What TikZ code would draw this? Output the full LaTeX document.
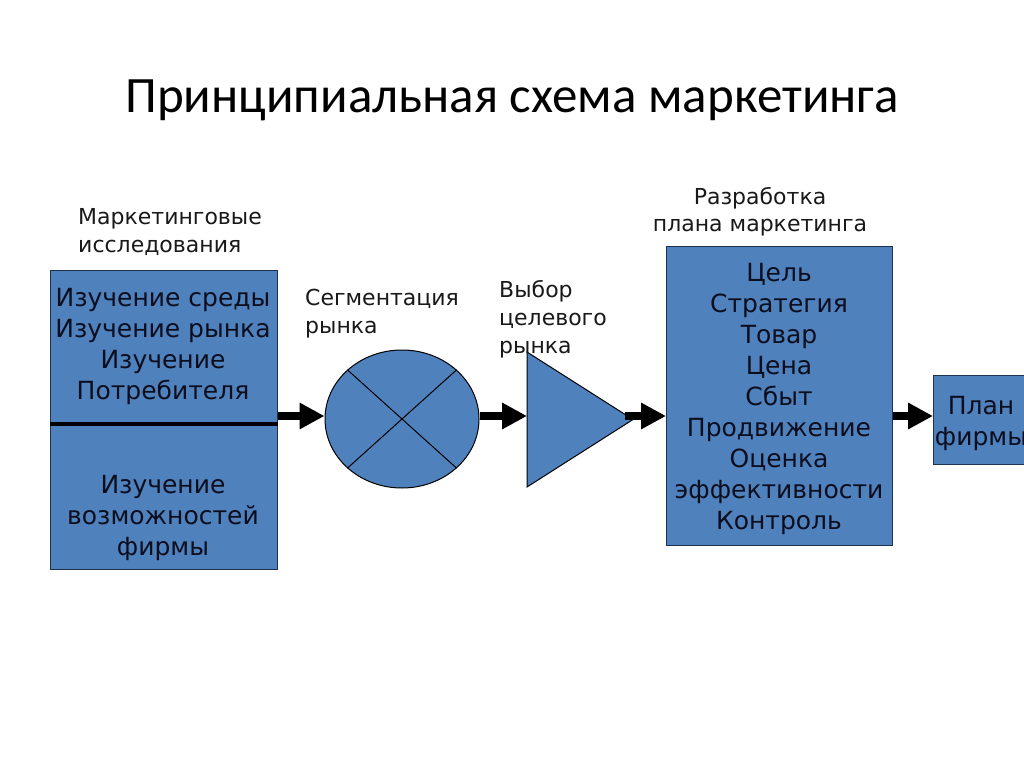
\documentclass[tikz,border=0pt]{standalone}
\usepackage{fontspec}
\setmainfont{DejaVu Sans}
\newfontfamily\titlefont{Carlito}
\usetikzlibrary{arrows.meta,shapes.geometric,calc}
\definecolor{boxfill}{RGB}{79,129,189}
\definecolor{boxline}{RGB}{30,50,80}
\definecolor{inktext}{RGB}{12,14,30}
\definecolor{labtext}{RGB}{25,25,25}
\begin{document}
\begin{tikzpicture}[x=1pt,y=-1pt,
  blockbox/.style={draw=boxline,line width=1pt,fill=boxfill,rectangle,inner sep=0pt},
  boxtext/.style={text=inktext,align=center,font=\fontsize{25}{31}\selectfont,inner sep=0pt},
  labeltext/.style={text=labtext,font=\fontsize{22}{28}\selectfont,inner sep=0pt},
  arr/.style={line width=8pt,-{Triangle[length=25pt,width=25pt]}}]
\useasboundingbox[fill=white] (0,0) rectangle (1024,767);
% title
\node[font=\titlefont\fontsize{51}{58}\selectfont,text=black,anchor=base] (title) at (512,113) {Принципиальная схема маркетинга};
% left block
\node[blockbox,minimum width=227pt,minimum height=299pt,anchor=north west] (lbox) at (50,270) {};
\draw[line width=4pt,black] (lbox.west |- 0,424) coordinate (divl) -- (lbox.east |- 0,424) coordinate (divr);
\node[boxtext,anchor=base] (ltop) at (163,399) {Изучение среды\\Изучение рынка\\Изучение\\Потребителя};
\node[boxtext,anchor=base] (lbot) at (163,555) {Изучение\\возможностей\\фирмы};
\node[labeltext,align=left,anchor=base west] (lab1) at (78,252) {Маркетинговые\\исследования};
% ellipse
\node[ellipse,draw=black,line width=1pt,fill=boxfill,minimum width=154pt,minimum height=138pt,inner sep=0pt] (ell) at (402,419) {};
\draw[black,line width=1pt] (ell.42) -- (ell.222);
\draw[black,line width=1pt] (ell.138) -- (ell.318);
\node[labeltext,align=left,anchor=base west] (lab2) at (305,333) {Сегментация\\рынка};
% triangle
\coordinate (tritop) at (527,352);
\coordinate (tribot) at (527,487);
\coordinate (tritip) at (633,419.5);
\draw[black,line width=1pt,fill=boxfill] (tritop) -- (tribot) -- (tritip) -- cycle;
\coordinate (triwest) at (527,416);
\node[labeltext,align=left,anchor=base west] (lab3) at (499,353) {Выбор\\целевого\\рынка};
% right block
\node[blockbox,minimum width=226pt,minimum height=299pt,anchor=north west] (rbox) at (666,246) {};
\node[boxtext] (rtext) at (779,398.5) {Цель\\Стратегия\\Товар\\Цена\\Сбыт\\Продвижение\\Оценка\\эффективности\\Контроль};
\node[labeltext,align=center,anchor=base] (lab4) at (760,232) {Разработка\\плана маркетинга};
% plan block
\node[blockbox,minimum width=98pt,minimum height=89pt,anchor=north west] (pbox) at (933,375) {};
\node[boxtext] (ptext) at (981,423) {План\\фирмы};
% arrows
\coordinate (ay) at (0,416);
\draw[arr] (lbox.east |- ay) -- (ell.west |- ay);
\draw[arr] (ell.east |- ay) -- (triwest);
\draw[arr] ([xshift=-8pt]tritip |- ay) -- (rbox.west |- ay);
\draw[arr] (rbox.east |- ay) -- (pbox.west |- ay);
\end{tikzpicture}
\end{document}
